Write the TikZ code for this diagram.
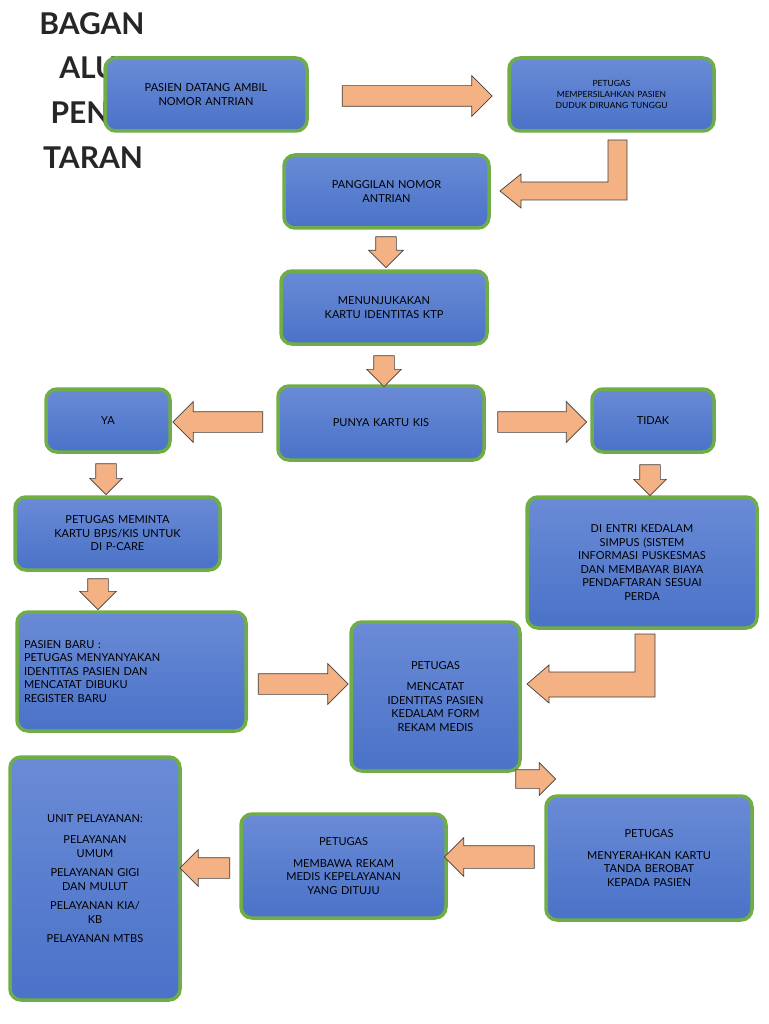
\documentclass[tikz,border=0pt]{standalone}
\usepackage{fontspec}
\setmainfont{Lato}
\usetikzlibrary{shapes.arrows}
\definecolor{bfill}{HTML}{4A72C8}
\definecolor{btop}{HTML}{6A8BD6}
\definecolor{bgreen}{HTML}{70AD47}
\definecolor{afill}{HTML}{F4B183}
\definecolor{aline}{HTML}{404040}
\tikzset{
 box/.style={draw=bgreen,line width=3.5pt,rounded corners=11pt,top color=btop,bottom color=bfill,
   text=black,align=center,font=\fontsize{11}{13.5}\selectfont,inner sep=3pt},
 barrow/.style={single arrow,draw=aline,fill=afill,line width=0.7pt,single arrow head indent=0pt},
 bpoly/.style={draw=aline,fill=afill,line width=0.7pt},
 ttl/.style={font=\fontsize{30}{34}\bfseries\selectfont,text=black!85}
}
\begin{document}
\begin{tikzpicture}[x=1pt,y=-1pt]
\useasboundingbox (0,0) rectangle (768,1024);
\node[ttl] (t1) at (92,24) {BAGAN};
\node[ttl] (t2) at (98,68) {ALUR};
\node[ttl] (t3) at (110,113) {PENDAF};
\node[ttl] (t4) at (93,158) {TARAN};
\newcommand\bx[6]{\node[box,minimum width=#4-#2,minimum height=#5-#3,text width=#4-#2-14,#6] (#1) at ({(#2+#4)/2},{(#3+#5)/2})}
\bx{b1}{105}{58}{307}{131}{}{PASIEN DATANG AMBIL\\NOMOR ANTRIAN};
\bx{b2}{509}{58}{714}{131}{font=\fontsize{8.5}{11}\selectfont}{PETUGAS\\MEMPERSILAHKAN PASIEN\\DUDUK DIRUANG TUNGGU};
\bx{b3}{284}{155}{489}{228}{}{PANGGILAN NOMOR\\ANTRIAN};
\bx{b4}{281}{271}{487}{344}{}{MENUNJUKAKAN\\KARTU IDENTITAS KTP};
\bx{b5}{278}{386}{484}{460}{}{PUNYA KARTU KIS};
\bx{b6}{46}{389}{170}{452}{}{YA};
\bx{b7}{592}{389}{714}{452}{}{TIDAK};
\bx{b8}{15}{497}{220}{570}{}{PETUGAS MEMINTA\\KARTU BPJS/KIS UNTUK\\DI P-CARE};
\bx{b9}{527}{497}{757}{628}{}{DI ENTRI KEDALAM\\SIMPUS (SISTEM\\INFORMASI PUSKESMAS\\DAN MEMBAYAR BIAYA\\PENDAFTARAN SESUAI\\PERDA};
\bx{b10}{17}{612}{246}{731}{align=left}{PASIEN BARU :\\PETUGAS MENYANYAKAN\\IDENTITAS PASIEN DAN\\MENCATAT DIBUKU\\REGISTER BARU};
\bx{b11}{351}{622}{520}{771}{}{PETUGAS\\[8pt]MENCATAT\\IDENTITAS PASIEN\\KEDALAM FORM\\REKAM MEDIS};
\bx{b12}{546}{796}{752}{920}{}{PETUGAS\\[8pt]MENYERAHKAN KARTU\\TANDA BEROBAT\\KEPADA PASIEN};
\bx{b13}{241}{814}{446}{918}{}{PETUGAS\\[8pt]MEMBAWA REKAM\\MEDIS KEPELAYANAN\\YANG DITUJU};
\bx{b14}{10}{757}{180}{1000}{}{UNIT PELAYANAN:\\[8pt]PELAYANAN\\UMUM\\[6pt]PELAYANAN GIGI\\DAN MULUT\\[6pt]PELAYANAN KIA/\\KB\\[6pt]PELAYANAN MTBS\\[40pt]};
% straight arrows
\node[barrow,inner sep=10pt,minimum height=150,single arrow head extend=10pt] (a1) at (412,96) {};
\node[barrow,inner sep=10pt,minimum height=30,single arrow head extend=7pt,shape border rotate=270] (a3) at (386,247) {};
\node[barrow,inner sep=10pt,minimum height=31,single arrow head extend=7pt,shape border rotate=270] (a4) at (384,366) {};
\node[barrow,inner sep=10pt,minimum height=90,single arrow head extend=10pt,shape border rotate=180] (a5) at (223,422) {};
\node[barrow,inner sep=10pt,minimum height=89,single arrow head extend=10pt] (a6) at (537,422) {};
\node[barrow,inner sep=10pt,minimum height=28,single arrow head extend=6pt,shape border rotate=270] (a7) at (106,474) {};
\node[barrow,inner sep=10pt,minimum height=30,single arrow head extend=6pt,shape border rotate=270] (a8) at (650,475) {};
\node[barrow,inner sep=10pt,minimum height=29,single arrow head extend=8pt,shape border rotate=270] (a9) at (98,589) {};
\node[barrow,inner sep=10pt,minimum height=90,single arrow head extend=10pt] (a10) at (298,684) {};
\node[barrow,inner sep=9pt,minimum height=40,single arrow head extend=7pt,shape border rotate=-35] (a12) at (531,779) {};
\node[barrow,inner sep=11pt,minimum height=90,single arrow head extend=8pt,shape border rotate=180] (a13) at (495,857) {};
\node[barrow,inner sep=10pt,minimum height=50,single arrow head extend=8pt,shape border rotate=180] (a14) at (210,868) {};
% bent arrows
\draw[bpoly] (608,140)--(627,140)--(627,200)--(521,200)--(521,208)--(500,191)--(521,174)--(521,182)--(608,182)--cycle;
\draw[bpoly] (635,634)--(655,634)--(655,697)--(549,697)--(549,703)--(527,684)--(549,665)--(549,672)--(635,672)--cycle;
\end{tikzpicture}
\end{document}
